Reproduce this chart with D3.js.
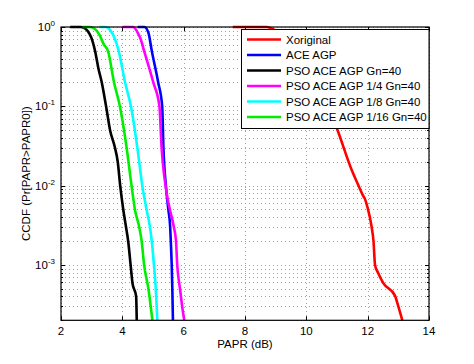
<!DOCTYPE html>
<html><head><meta charset="utf-8">
<script src="https://cdn.jsdelivr.net/npm/d3@7"></script>
<style>body{margin:0;background:#fff}svg{display:block}text{font-family:"Liberation Sans",Arial,sans-serif}</style>
</head><body>
<svg id="c" width="474" height="364"></svg>
<script>
const xTicks = [2,4,6,8,10,12,14];
const yTicks = [1e-3,1e-2,1e-1,1];
const yTickExp = ["-3","-2","-1","0"];
const seriesNames = ["Xoriginal","ACE AGP","PSO ACE AGP Gn=40","PSO ACE AGP 1/4 Gn=40","PSO ACE AGP 1/8 Gn=40","PSO ACE AGP 1/16 Gn=40"];
const seriesColors = ["#ff0000","#0000ff","#000000","#ff00ff","#00ffff","#00ee00"];

const xoriginal = [[7.6,1],[8.7,1],[9.0,0.9],[9.5,0.6],[10,0.35],[10.5,0.15],[11,0.052],[11.48,0.0157],[11.7,0.01],[11.84,0.0076],[11.91,0.0068],[11.99,0.0054],[12.13,0.003],[12.19,0.002],[12.24,0.001],[12.35,7.8e-4],[12.51,5.9e-4],[12.89,4.1e-4],[13.0,3.0e-4],[13.13,2e-4]];
const aceAgp = [[4.5,1],[4.72,1],[4.85,0.85],[4.96,0.5],[5.17,0.2],[5.30,0.1],[5.34,0.03],[5.42,0.01],[5.5,0.005],[5.56,0.003],[5.58,0.002],[5.61,0.001],[5.63,5e-4],[5.65,2e-4]];
const psoGn40 = [[2.3,1],[2.65,1],[2.8,0.95],[2.93,0.82],[3.02,0.68],[3.11,0.5],[3.22,0.3],[3.33,0.2],[3.47,0.1],[3.6,0.05],[3.76,0.03],[3.85,0.02],[3.93,0.01],[4.03,0.005],[4.12,0.003],[4.19,0.002],[4.27,0.001],[4.33,5.9e-4],[4.45,4e-4],[4.47,2e-4]];
const pso14 = [[4.0,1],[4.35,1],[4.5,0.85],[4.6,0.7],[4.71,0.5],[5.01,0.2],[5.21,0.1],[5.28,0.03],[5.35,0.015],[5.41,0.01],[5.47,0.007],[5.55,0.005],[5.68,0.003],[5.75,0.002],[5.79,0.001],[5.85,6e-4],[5.88,5e-4],[5.95,3e-4],[6.02,2e-4]];
const pso18 = [[3.25,1],[3.45,1],[3.6,0.92],[3.75,0.72],[3.88,0.5],[4.09,0.2],[4.28,0.1],[4.49,0.03],[4.65,0.01],[4.79,0.005],[4.9,0.003],[4.96,0.002],[5.03,0.001],[5.09,5e-4],[5.12,3e-4],[5.14,2e-4]];
const pso116 = [[2.7,1],[2.95,1],[3.1,0.95],[3.25,0.8],[3.4,0.6],[3.53,0.5],[3.73,0.2],[3.92,0.1],[4.14,0.03],[4.3,0.01],[4.41,0.005],[4.55,0.003],[4.63,0.002],[4.71,0.001],[4.85,5e-4],[4.98,2e-4]];
const seriesData = [xoriginal, aceAgp, psoGn40, pso14, pso18, pso116];

const L=61, R=429, T=27, B=320.3;
const svg = d3.select("#c");
const x = d3.scaleLinear().domain([2,14]).range([L,R]);
const y = d3.scaleLog().domain([2e-4,1]).range([B,T]);

const minorY = [];
for (let e=-4;e<=-1;e++) for (let m=2;m<=9;m++){const v=m*Math.pow(10,e); if(v>=2e-4 && v<1) minorY.push(v);}

const grid = svg.append("g").attr("stroke","#a0a0a0").attr("stroke-width",1).attr("stroke-dasharray","1,3");
minorY.concat(yTicks).forEach(v=>{grid.append("line").attr("x1",L).attr("x2",R).attr("y1",Math.round(y(v))+0.5).attr("y2",Math.round(y(v))+0.5);});
xTicks.forEach(v=>{grid.append("line").attr("x1",Math.round(x(v))+0.5).attr("x2",Math.round(x(v))+0.5).attr("y1",T).attr("y2",B);});

const tk = svg.append("g").attr("stroke","#000").attr("stroke-width",1);
xTicks.forEach(v=>{const px=Math.round(x(v))+0.5; tk.append("line").attr("x1",px).attr("x2",px).attr("y1",B).attr("y2",B-4); tk.append("line").attr("x1",px).attr("x2",px).attr("y1",T).attr("y2",T+4);});
yTicks.forEach(v=>{const py=Math.round(y(v))+0.5; tk.append("line").attr("x1",L).attr("x2",L+4).attr("y1",py).attr("y2",py); tk.append("line").attr("x1",R).attr("x2",R-4).attr("y1",py).attr("y2",py);});
minorY.forEach(v=>{const py=Math.round(y(v))+0.5; tk.append("line").attr("x1",L).attr("x2",L+2).attr("y1",py).attr("y2",py); tk.append("line").attr("x1",R).attr("x2",R-2).attr("y1",py).attr("y2",py);});

const line = d3.line().x(d=>x(d[0])).y(d=>y(d[1])).curve(d3.curveMonotoneX);
seriesData.forEach((d,i)=>{
  svg.append("path").datum(d).attr("d",line).attr("fill","none").attr("stroke",seriesColors[i]).attr("stroke-width",2.6).attr("stroke-linejoin","round");
});

svg.append("rect").attr("x",L).attr("y",T).attr("width",R-L).attr("height",B-T).attr("fill","none").attr("stroke","#000").attr("stroke-width",1.2);

xTicks.forEach(v=>{svg.append("text").attr("x",x(v)).attr("y",B+15).attr("text-anchor","middle").attr("font-size",11.5).text(v);});
yTicks.forEach((v,i)=>{
  const t=svg.append("text").attr("x",L-6).attr("y",y(v)+4).attr("text-anchor","end").attr("font-size",11.5);
  t.append("tspan").text("10");
  t.append("tspan").attr("dy",-5).attr("font-size",8).text(yTickExp[i]);
});

svg.append("text").attr("x",(L+R)/2).attr("y",348).attr("text-anchor","middle").attr("font-size",11.5).text("PAPR (dB)");
svg.append("text").attr("transform",`translate(30,${(T+B)/2}) rotate(-90)`).attr("text-anchor","middle").attr("font-size",11.5).text("CCDF (Pr[PAPR>PAPR0])");

const lg = svg.append("g");
lg.append("rect").attr("x",241.5).attr("y",29.5).attr("width",R-241.5).attr("height",99).attr("fill","#fff").attr("stroke","#000").attr("stroke-width",1);
seriesNames.forEach((n,i)=>{
  const ly=39.5+i*15.5;
  lg.append("line").attr("x1",247).attr("x2",281).attr("y1",ly).attr("y2",ly).attr("stroke",seriesColors[i]).attr("stroke-width",2.6);
  lg.append("text").attr("x",286).attr("y",ly+4).attr("font-size",11.5).text(n);
});
</script>
</body></html>
